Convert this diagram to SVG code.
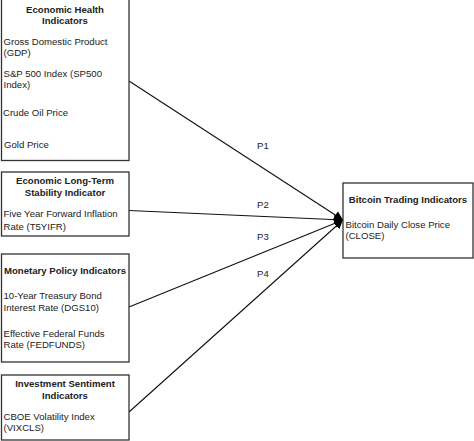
<svg xmlns="http://www.w3.org/2000/svg" width="474" height="441" viewBox="0 0 474 441">
<defs>
<style>
.box{fill:#fff;stroke:#333;stroke-width:1.3}
.t{font-family:"Liberation Sans",Arial,sans-serif;font-size:9.6px;fill:#222}
.b{font-weight:bold;text-anchor:middle}
.conn{stroke:#111;stroke-width:1.1;fill:none;marker-end:url(#ah)}
</style>
<marker id="ah" markerWidth="10" markerHeight="10" refX="9" refY="5" orient="auto" markerUnits="userSpaceOnUse">
<path d="M0,0.5 L9,5 L0,9.5 Z" fill="#000"/>
</marker>
</defs>
<rect width="474" height="441" fill="#fff"/>
<g id="connectors">
<line class="conn" x1="129" y1="81" x2="343" y2="220"/>
<line class="conn" x1="129" y1="210.5" x2="343" y2="220"/>
<line class="conn" x1="129" y1="307" x2="343" y2="220"/>
<line class="conn" x1="129" y1="412" x2="343" y2="220"/>
<text class="t" x="257" y="148.5">P1</text>
<text class="t" x="257" y="207.5">P2</text>
<text class="t" x="257" y="239.5">P3</text>
<text class="t" x="257" y="276.5">P4</text>
</g>
<g id="economic-health">
<rect class="box" x="1.5" y="-1" width="127.5" height="161.5"/>
<text class="t b" x="65" y="12.5">Economic Health</text>
<text class="t b" x="65" y="24">Indicators</text>
<text class="t" x="3.5" y="44.5">Gross Domestic Product</text>
<text class="t" x="3.5" y="56">(GDP)</text>
<text class="t" x="3.5" y="76.5">S&amp;P 500 Index (SP500</text>
<text class="t" x="3.5" y="88">Index)</text>
<text class="t" x="3" y="115.5">Crude Oil Price</text>
<text class="t" x="4" y="147.5">Gold Price</text>
</g>
<g id="long-term-stability">
<rect class="box" x="1.5" y="172" width="127.5" height="64"/>
<text class="t b" x="65" y="184">Economic Long-Term</text>
<text class="t b" x="65" y="195.5">Stability Indicator</text>
<text class="t" x="3.5" y="216.5">Five Year Forward Inflation</text>
<text class="t" x="3.5" y="229.5">Rate (T5YIFR)</text>
</g>
<g id="monetary-policy">
<rect class="box" x="1.5" y="254" width="127.5" height="108"/>
<text class="t b" x="65" y="273.5">Monetary Policy Indicators</text>
<text class="t" x="3.5" y="299">10-Year Treasury Bond</text>
<text class="t" x="3.5" y="310.5">Interest Rate (DGS10)</text>
<text class="t" x="3.5" y="336.5">Effective Federal Funds</text>
<text class="t" x="3.5" y="347.5">Rate (FEDFUNDS)</text>
</g>
<g id="investment-sentiment">
<rect class="box" x="1.5" y="375" width="127.5" height="65"/>
<text class="t b" x="65" y="386.5">Investment Sentiment</text>
<text class="t b" x="65" y="399">Indicators</text>
<text class="t" x="3.5" y="420">CBOE Volatility Index</text>
<text class="t" x="3.5" y="431">(VIXCLS)</text>
</g>
<g id="bitcoin-trading">
<rect class="box" x="343" y="183" width="130" height="75"/>
<text class="t b" x="408" y="202.5">Bitcoin Trading Indicators</text>
<text class="t" x="345.5" y="227.5">Bitcoin Daily Close Price</text>
<text class="t" x="345.5" y="238.5">(CLOSE)</text>
</g>
</svg>
